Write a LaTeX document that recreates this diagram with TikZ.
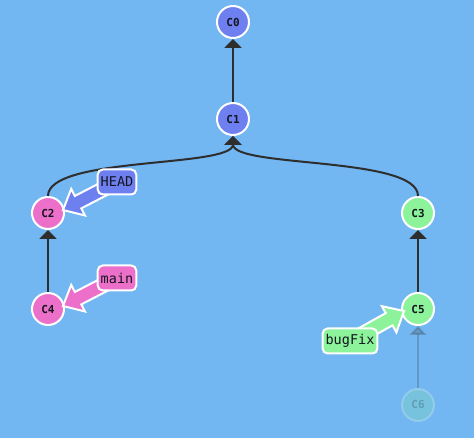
\documentclass[tikz,border=0pt]{standalone}
\usepackage{fontspec}
\setmonofont{DejaVu Sans Mono}
\usetikzlibrary{calc,arrows.meta}
\definecolor{bg}{HTML}{72B6F2}
\definecolor{cblue}{HTML}{6E80F0}
\definecolor{cpink}{HTML}{EC6FC9}
\definecolor{cgreen}{HTML}{8CF39B}
\definecolor{edgec}{HTML}{2E2E2E}
\definecolor{txt}{HTML}{151520}
\newcommand\barrow[3]{%
  \coordinate (ba-h) at ($(#2)!17pt!(#1)$);
  \filldraw[draw=white, line width=2pt, fill=#3, line join=miter]
    ($(#1)!7pt!90:(#2)$) -- ($(ba-h)!7pt!90:(#2)$) -- ($(ba-h)!15pt!90:(#2)$) -- (#2)
    -- ($(ba-h)!15pt!-90:(#2)$) -- ($(ba-h)!7pt!-90:(#2)$) -- ($(#1)!7pt!-90:(#2)$) -- cycle;}
\begin{document}
\begin{tikzpicture}[x=1pt,y=-1pt,
  commit/.style={circle, minimum size=32pt, inner sep=0pt, draw=white, line width=2pt,
    font=\ttfamily\bfseries\fontsize{11}{13}\selectfont, text=txt},
  branch/.style={rectangle, rounded corners=5pt, draw=white, line width=2pt,
    font=\ttfamily\fontsize{13.5}{15}\selectfont, text=txt, inner xsep=3pt, minimum height=25pt},
  edge/.style={draw=edgec, line width=2pt, -{Triangle[length=9pt,width=17pt]}}]
\useasboundingbox (0,0) rectangle (474,438);
\fill[bg] (0,0) rectangle (474,438);
% commits
\node[commit, fill=cblue] (C0) at (233,22) {C0};
\node[commit, fill=cblue] (C1) at (233,119) {C1};
\node[commit, fill=cpink] (C2) at (48,213) {C2};
\node[commit, fill=cgreen] (C3) at (418,213) {C3};
\node[commit, fill=cpink] (C4) at (48,309) {C4};
\node[commit, fill=cgreen] (C5) at (418,309) {C5};
\begin{scope}[opacity=0.22]
\node[commit, fill=cgreen] (C6) at (418,405) {C6};
\draw[edge] (C6) -- (C5);
\end{scope}
% edges
\draw[edge] (C1) -- (C0);
\draw[edge] (C2.north) .. controls +(0,-40) and +(0,32) .. (C1.south);
\draw[edge] (C3.north) .. controls +(0,-40) and +(0,32) .. (C1.south);
\draw[edge] (C4) -- (C2);
\draw[edge] (C5) -- (C3);
% branch pointers
\coordinate (tHEAD) at (63,210);
\coordinate (tmain) at (63,306);
\coordinate (tbug) at (404,311);
\coordinate (sHEAD) at (117,182);
\coordinate (smain) at (117,278);
\coordinate (sbug) at (350,341);
\barrow{sHEAD}{tHEAD}{cblue}
\barrow{smain}{tmain}{cpink}
\barrow{sbug}{tbug}{cgreen}
\node[branch, fill=cblue] (HEAD) at (sHEAD) {HEAD};
\node[branch, fill=cpink] (main) at (smain) {main};
\node[branch, fill=cgreen] (bugFix) at (sbug) {bugFix};
\end{tikzpicture}
\end{document}
